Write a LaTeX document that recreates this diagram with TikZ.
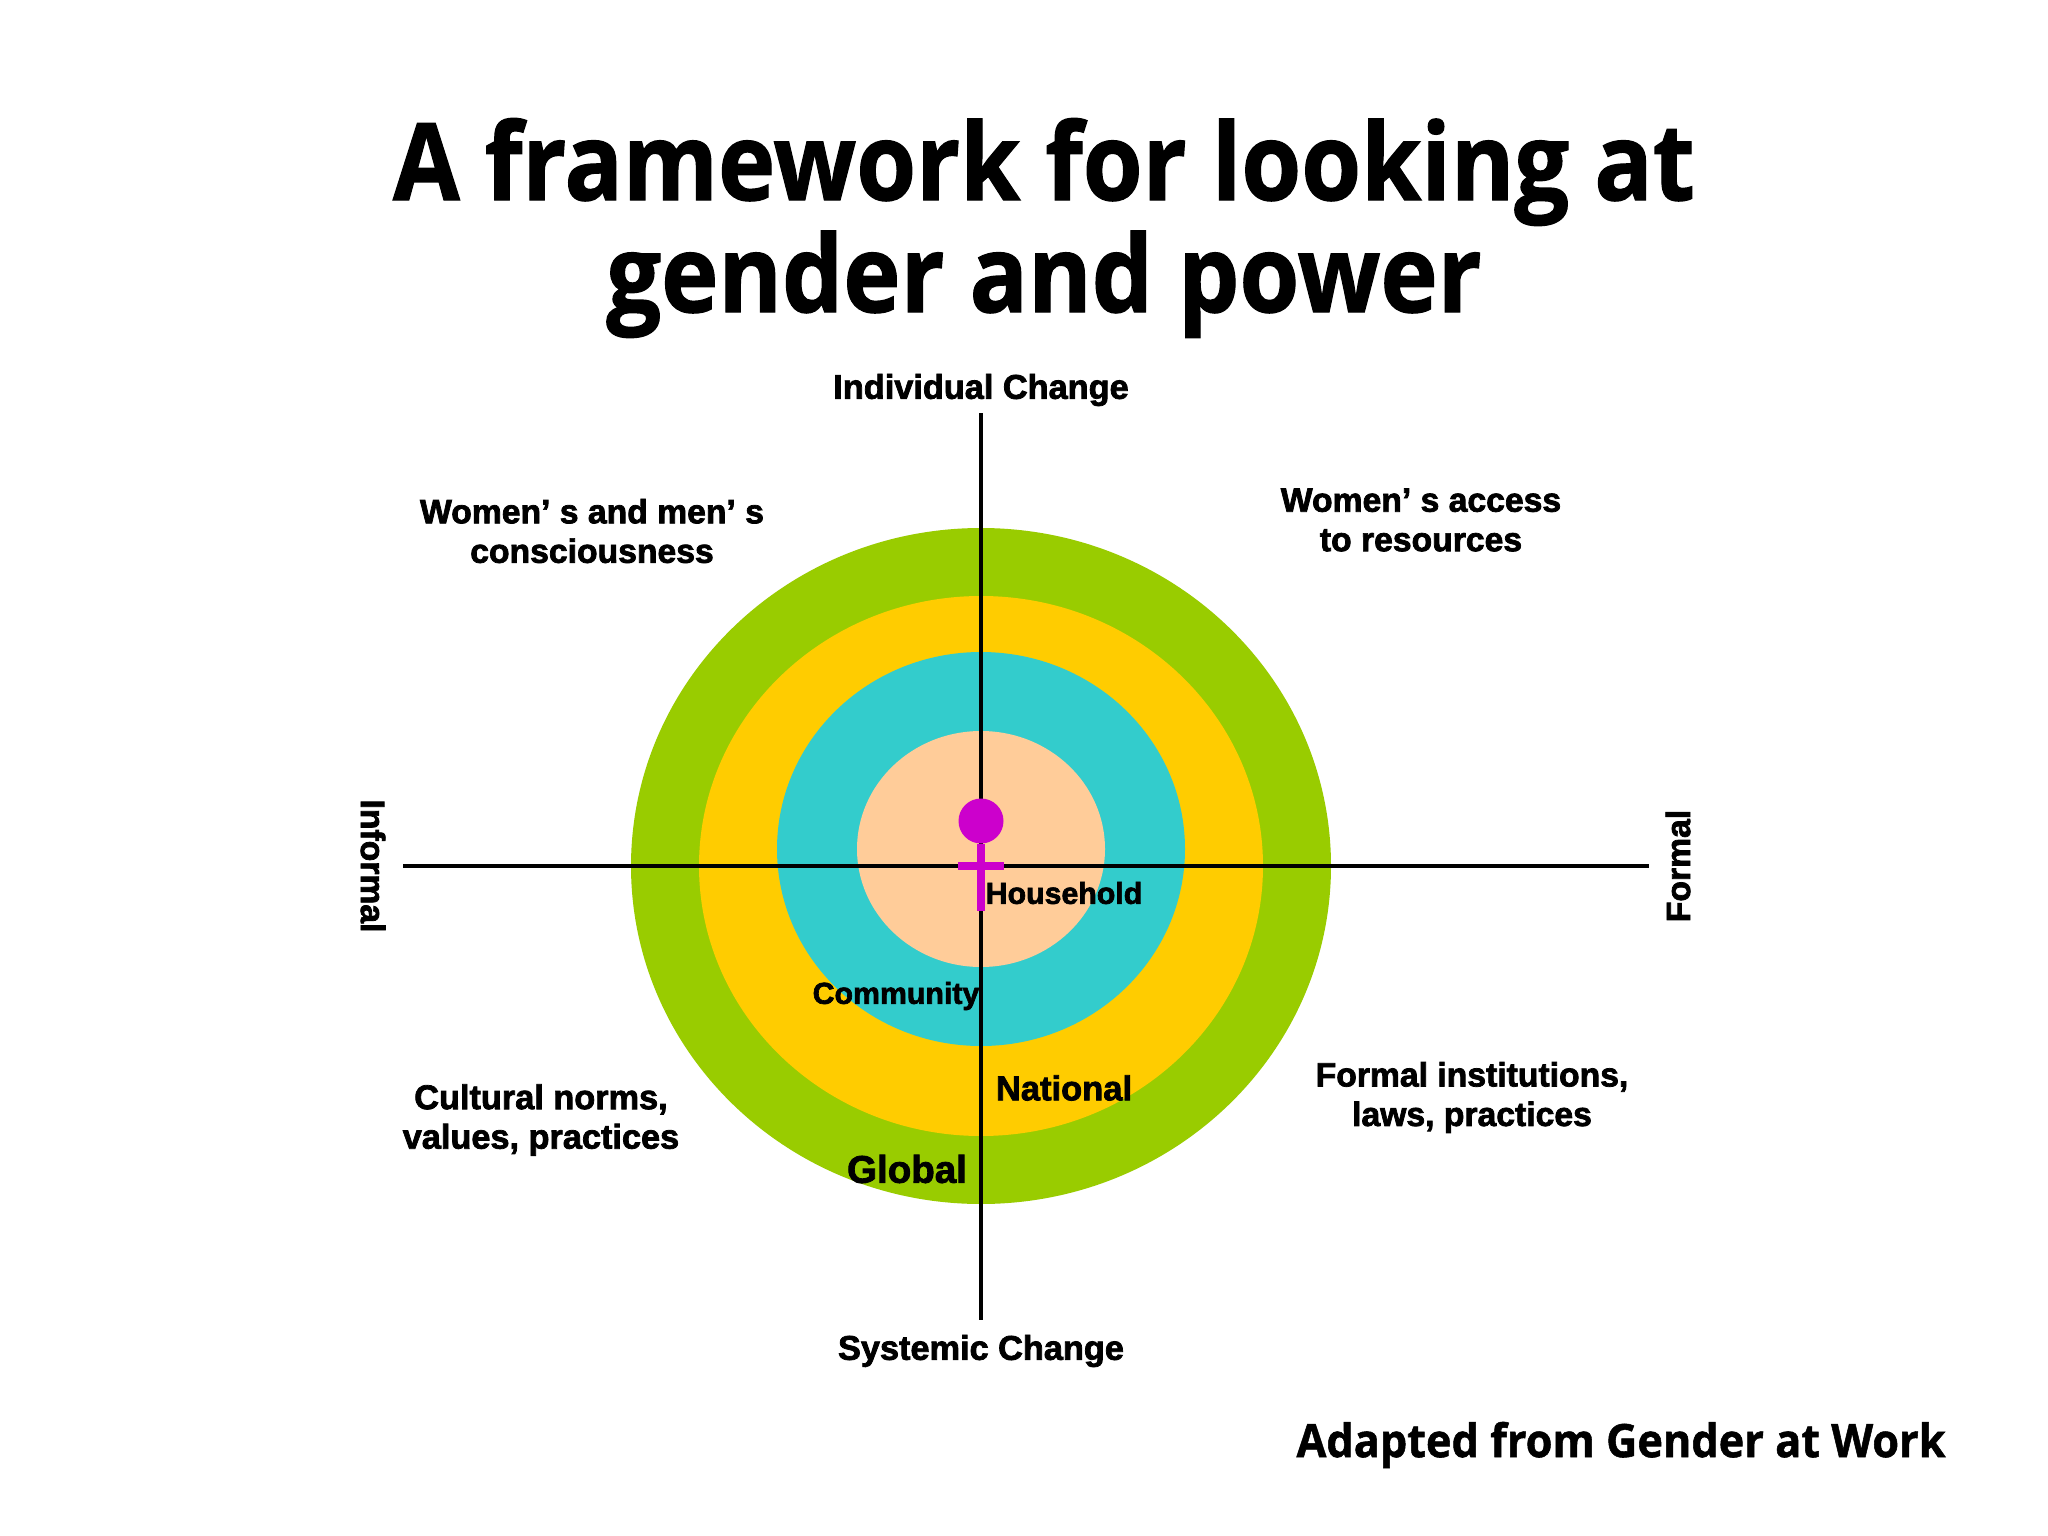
\documentclass[tikz,border=0pt]{standalone}
\usepackage{fontspec}
\setmainfont{Liberation Sans}
\newfontfamily\titlefont[UprightFont=* Bold,FakeBold=1.2]{Open Sans}
\newfontfamily\labfont[UprightFont=* Bold,FakeBold=2.2]{Liberation Sans}
\definecolor{cgreen}{HTML}{99CC00}
\definecolor{corange}{HTML}{FFCC00}
\definecolor{cteal}{HTML}{33CCCC}
\definecolor{cpeach}{HTML}{FFCC99}
\definecolor{cmag}{HTML}{CC00CC}
\tikzset{
 lab/.style={font=\labfont\fontsize{34.3}{39.5}\selectfont,align=center,inner sep=0pt,text=black},
 labn/.style={font=\labfont\fontsize{33.7}{39.5}\selectfont,align=center,inner sep=0pt,text=black},
 labs/.style={font=\labfont\fontsize{30.3}{37}\selectfont,align=center,inner sep=0pt,text=black},
 ttl/.style={font=\titlefont\fontsize{107}{112}\selectfont,align=center,inner sep=0pt,xscale=0.905},
 axis/.style={draw=black,line width=4pt},
 venus/.style={draw=cmag,line width=7.5pt}
}
\begin{document}
\begin{tikzpicture}[x=1pt,y=-1pt]
\useasboundingbox (0,0) rectangle (2048,1536);
\fill[white] (0,0) rectangle (2048,1536);
\node[ttl] (title) at (1044,228) {A framework for looking at\\gender and power};
\fill[cgreen] (981,866) ellipse [x radius=350,y radius=338];
\fill[corange] (981,866) ellipse [x radius=282,y radius=270];
\fill[cteal] (981,849) ellipse [x radius=204,y radius=197];
\fill[cpeach] (981,849) ellipse [x radius=124,y radius=118];
\coordinate (top) at (981,413);
\coordinate (bot) at (981,1320);
\coordinate (lft) at (403,866);
\coordinate (rgt) at (1649,866);
\draw[axis] (top) -- (bot);
\draw[axis] (lft) -- (rgt);
\node[circle,fill=cmag,minimum size=45pt,inner sep=0pt] (head) at (981,821) {};
\coordinate (vbot) at (981,911);
\coordinate (vl) at (958,866);
\coordinate (vr) at (1004,866);
\draw[venus] (head) -- (vbot);
\draw[venus] (vl) -- (vr);
\node[lab] (ind) at (981,390) {Individual Change};
\node[lab] (sys) at (981,1351) {Systemic Change};
\node[labn] (cons) at (592,531) {Women’ s and men’ s\\consciousness};
\node[labn] (acc) at (1421,520) {Women’ s access\\to resources};
\node[lab] (cult) at (541,1120) {Cultural norms,\\values, practices};
\node[labn] (inst) at (1472,1097.5) {Formal institutions,\\laws, practices};
\node[labn,rotate=-90] (inf) at (373,866) {Informal};
\node[labn,rotate=90] (frm) at (1678,866) {Formal};
\node[labs] (house) at (1064,893) {Household};
\node[labs] (comm) at (896,996) {Community};
\node[font=\labfont\fontsize{34.5}{40}\selectfont,inner sep=0pt] (nat) at (1064,1088) {National};
\node[font=\labfont\fontsize{38.5}{44}\selectfont,inner sep=0pt] (glob) at (907,1169) {Global};
\node[font=\titlefont\fontsize{46}{52}\selectfont,inner sep=0pt,xscale=0.94] (adapt) at (1621,1445) {Adapted from Gender at Work};
\end{tikzpicture}
\end{document}
